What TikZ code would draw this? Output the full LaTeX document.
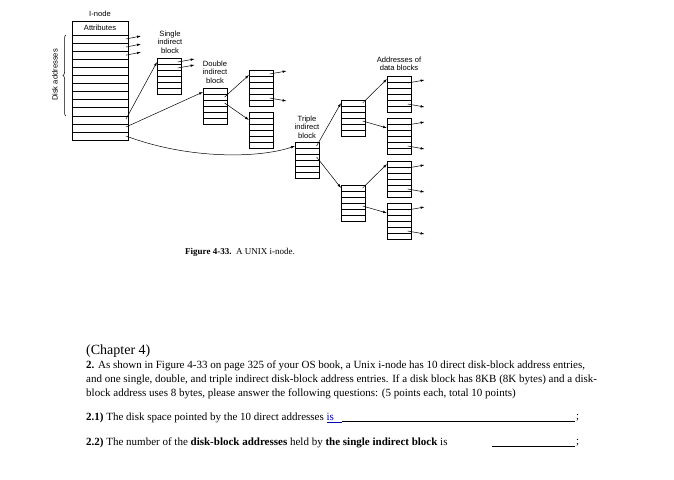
\documentclass[tikz,border=0pt]{standalone}
\usepackage{fontspec}
\setmainfont{Liberation Serif}
\newfontfamily\diag{Liberation Sans}
\usetikzlibrary{arrows.meta,decorations.pathreplacing}
\tikzset{
 blk/.style={draw,line width=0.6pt,minimum width=24pt,minimum height=36pt,inner sep=0pt,anchor=north west},
 ptr/.style={-{Latex[length=4pt,width=2.5pt]},line width=0.5pt},
 lbl/.style={font=\diag\fontsize{7.6}{8.5}\selectfont,align=center,inner sep=0pt},
 txt/.style={font=\fontsize{11}{10}\selectfont,anchor=west,inner sep=0pt}
}
\newcommand{\mkblk}[3]{% name, x, y
 \node[blk] (#1) at (#2,#3) {};
 \foreach \i in {1,...,5} \draw[line width=0.5pt] ([yshift=-6*\i pt]#1.north west) -- ([yshift=-6*\i pt]#1.north east);
}
\begin{document}
\begin{tikzpicture}[x=1pt,y=-1pt]
\useasboundingbox (0,0) rectangle (674,479);
% inode
\node[draw,line width=0.6pt,minimum width=56pt,minimum height=119pt,inner sep=0pt,anchor=north west] (in) at (72,21) {};
\draw[line width=0.6pt] (72,35) -- (128,35);
\foreach \i in {1,...,12} \draw[line width=0.5pt] (72,35+8.08*\i) -- (128,35+8.08*\i);
\node[lbl] (att) at (100,28) {Attributes};
\node[lbl] (inl) at (100,14) {I-node};
\node[lbl,rotate=90] (da) at (55,75) {Disk addresses};
\draw[line width=0.5pt,decorate,decoration={brace,amplitude=3pt}] (66,116) -- (66,35);
\foreach \i in {0,1,2} \draw[ptr] (126,39+8.08*\i) -- (141,36+8.08*\i);
% blocks
\mkblk{s}{157}{58}
\mkblk{d}{203}{88}
\mkblk{d1}{249}{70}
\mkblk{d2}{249}{112}
\mkblk{t}{295}{142}
\mkblk{t1}{341}{100}
\mkblk{t2}{341}{185}
\mkblk{a1}{387}{76}
\mkblk{a2}{387}{118}
\mkblk{a3}{387}{161}
\mkblk{a4}{387}{203}
\node[lbl] (sl) at (170,42) {Single\\indirect\\block};
\node[lbl] (dl) at (215,72) {Double\\indirect\\block};
\node[lbl] (tl) at (307,127) {Triple\\indirect\\block};
\node[lbl] (al) at (399,64) {Addresses of\\data blocks};
% inode pointers
\draw[ptr] (126,119) -- ([yshift=-4pt]s.north west);
\draw[ptr] (126,127) -- ([yshift=-4pt]d.north west);
\draw[ptr] (126,136) .. controls (190,160) and (260,158) .. ([yshift=-4pt]t.north west);
% single
\draw[ptr] ([xshift=-4pt,yshift=-4pt]s.north east) -- ++(17,-3);
\draw[ptr] ([xshift=-4pt,yshift=-10pt]s.north east) -- ++(17,-3);
% double
\draw[ptr] ([xshift=-3pt,yshift=-9pt]d.north east) -- ([yshift=-5pt]d1.north west);
\draw[ptr] ([xshift=-3pt,yshift=-15pt]d.north east) -- ([yshift=-8pt]d2.north west);
\draw[ptr] ([xshift=-4pt,yshift=-4pt]d1.north east) -- ++(17,-3);
\draw[ptr] ([xshift=-4pt,yshift=-28pt]d1.north east) -- ++(17,3);
% triple
\draw[ptr] ([xshift=-3pt,yshift=-4pt]t.north east) -- ([yshift=-3pt]t1.north west);
\draw[ptr] ([xshift=-3pt,yshift=-15pt]t.north east) -- ([yshift=-3pt]t2.north west);
\draw[ptr] ([xshift=-3pt,yshift=-3pt]t1.north east) -- ([yshift=-3pt]a1.north west);
\draw[ptr] ([xshift=-3pt,yshift=-21pt]t1.north east) -- ([yshift=-10pt]a2.north west);
\draw[ptr] ([xshift=-3pt,yshift=-3pt]t2.north east) -- ([yshift=-3pt]a3.north west);
\draw[ptr] ([xshift=-3pt,yshift=-21pt]t2.north east) -- ([yshift=-10pt]a4.north west);
\foreach \b in {a1,a2,a3,a4}{
 \draw[ptr] ([xshift=-4pt,yshift=-7pt]\b.north east) -- ++(17,-3);
 \draw[ptr] ([xshift=-4pt,yshift=-28pt]\b.north east) -- ++(17,3);
}
% caption
\node[font=\fontsize{9}{10}\selectfont,anchor=west,inner sep=0pt] (cap) at (185,252) {\textbf{Figure 4-33.}\ \ A UNIX i-node.};
% text
\node[font=\fontsize{14}{15}\selectfont,anchor=west,inner sep=0pt] (ch) at (86,351) {(Chapter 4)};
\node[font=\fontsize{11}{14}\selectfont,anchor=north west,inner sep=0pt,align=left] (q) at (86,361) {\textbf{2.} As shown in Figure 4-33 on page 325 of your OS book, a Unix i-node has 10 direct disk-block address entries,\\
and one single, double, and triple indirect disk-block address entries. If a disk block has 8KB (8K bytes) and a disk-\\
block address uses 8 bytes, please answer the following questions: (5 points each, total 10 points)};
\node[txt] (q1) at (86,418) {\textbf{2.1)} The disk space pointed by the 10 direct addresses \textcolor{blue!70!black}{\underline{is\phantom{\ \ \ }}}};
\draw[line width=0.5pt] (q1.east |- 0,421) -- (575,421);
\node[txt] (sc1) at (576,418) {;};
\node[txt] (q2) at (86,443) {\textbf{2.2)} The number of the \textbf{disk-block addresses} held by \textbf{the single indirect block} is};
\draw[line width=0.5pt] (492,446) -- (575,446);
\node[txt] (sc2) at (576,443) {;};
\end{tikzpicture}
\end{document}
